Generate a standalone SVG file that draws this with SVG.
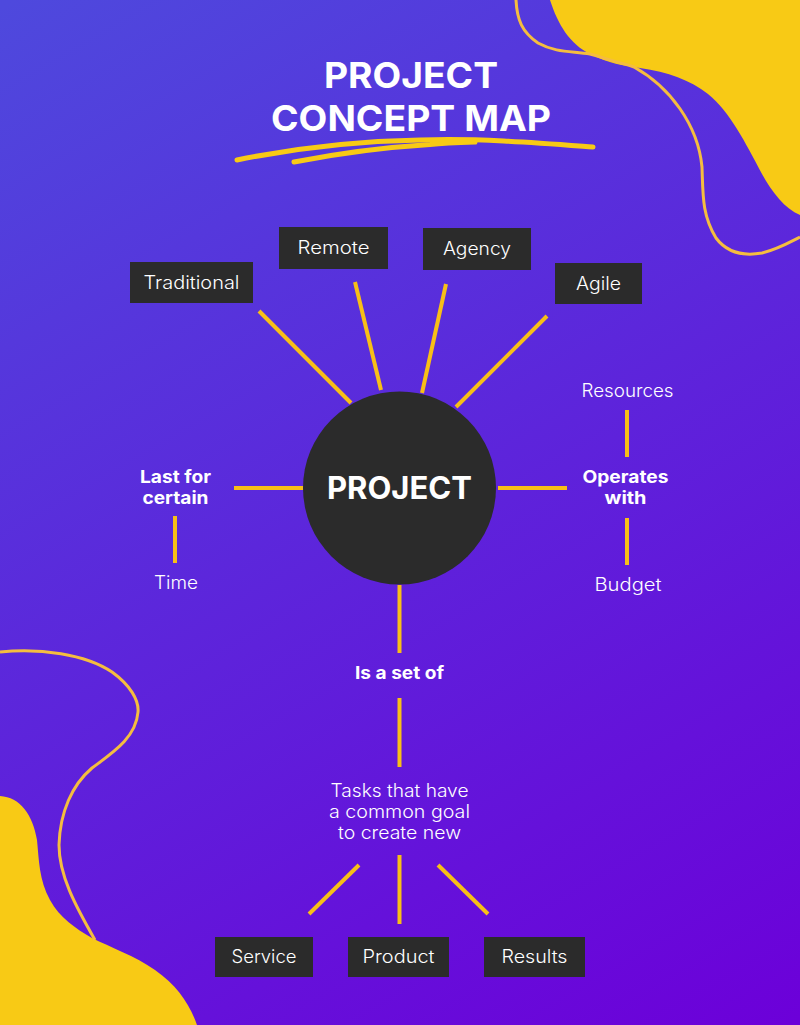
<svg xmlns="http://www.w3.org/2000/svg" width="800" height="1025" viewBox="0 0 800 1025">
<style>
text{font-family:Inter,"Open Sans","Liberation Sans",sans-serif;fill:#fff;text-anchor:middle}
.t{font-size:36px;font-weight:700}
.c{font-size:18px;font-weight:300}
.b{font-size:17.5px;font-weight:700}
.box{fill:#2b2b2b}
.con line{stroke:#f8bf17;stroke-width:4}
.thin{fill:none;stroke:#f5bd3f;stroke-width:3}
.blob{fill:#f8ca15}
.ul{fill:none;stroke:#f8ca15;stroke-linecap:round}
</style>
<defs><linearGradient id="bg" gradientUnits="userSpaceOnUse" x1="80" y1="-40" x2="720" y2="1065"><stop offset="0" stop-color="#4e49dd"/><stop offset="1" stop-color="#6c00d9"/></linearGradient></defs>
<rect width="800" height="1025" fill="url(#bg)"/>
<path class="blob" d="M550 0C558 25 570 44 590 54C610 64 622 65 640 68C668 72 690 80 708 94C730 112 745 142 762 174C772 192 785 209 800 215V0Z"/>
<path class="thin" d="M516 0C517 20 522 32 538 43C556 53 572 51 590 54C610 60 618 62 634 67C670 87 698 125 702 167C703 195 702 215 716 238C728 254 745 256 762 253C778 249 790 242 800 237"/>
<path class="blob" d="M0 796C20 797 33 815 37 840C39 860 39 880 50 900C60 918 75 928 92 938C110 947 135 956 155 970C178 986 190 1005 197 1025H0Z"/>
<path class="thin" d="M0 652C40 648 85 654 112 672C130 685 139 700 138 712C136 738 112 753 92 768C72 785 60 812 59 845C59 875 75 905 95 940"/>
<g id="title"><text class="t" x="411" y="88" textLength="174" lengthAdjust="spacingAndGlyphs">PROJECT</text><text class="t" x="411" y="131" textLength="280" lengthAdjust="spacingAndGlyphs">CONCEPT MAP</text></g>
<g id="underline"><path class="ul" stroke-width="5" d="M237 160C300 147 360 141 420 140C480 138 540 143 593 147"/><path class="ul" stroke-width="5" d="M294 162C340 153 390 147 430 144.500C445 143 460 142.500 475 142"/></g>
<g class="con" id="connectors">
<line x1="259" y1="311" x2="351" y2="403"/><line x1="355" y1="282" x2="381" y2="390"/><line x1="446" y1="284" x2="422" y2="393"/><line x1="547" y1="316" x2="456" y2="407"/>
<line x1="498" y1="488" x2="567" y2="488"/><line x1="234" y1="488" x2="303" y2="488"/><line x1="627" y1="410" x2="627" y2="457"/><line x1="627" y1="518" x2="627" y2="565"/><line x1="175" y1="516" x2="175" y2="563"/>
<line x1="399.500" y1="585" x2="399.500" y2="653"/><line x1="399.500" y1="698" x2="399.500" y2="767"/><line x1="359" y1="865" x2="309" y2="914"/><line x1="399.500" y1="855" x2="399.500" y2="924"/><line x1="438" y1="865" x2="488" y2="914"/>
</g>
<g id="project"><circle cx="399.5" cy="488" r="96.5" fill="#2b2b2b"/><text x="399.5" y="499" style="font-size:31px;font-weight:700" textLength="145" lengthAdjust="spacingAndGlyphs">PROJECT</text></g>
<g id="traditional"><rect class="box" x="130" y="262" width="123" height="41"/><text class="c" x="191.500" y="288.500" textLength="96" lengthAdjust="spacingAndGlyphs">Traditional</text></g>
<g id="remote"><rect class="box" x="279" y="227" width="109" height="42"/><text class="c" x="333.500" y="253.500" textLength="72" lengthAdjust="spacingAndGlyphs">Remote</text></g>
<g id="agency"><rect class="box" x="423" y="228" width="108" height="42"/><text class="c" x="477" y="254.500" textLength="68" lengthAdjust="spacingAndGlyphs">Agency</text></g>
<g id="agile"><rect class="box" x="555" y="263" width="87" height="41"/><text class="c" x="598.500" y="289.500" textLength="45" lengthAdjust="spacingAndGlyphs">Agile</text></g>
<g id="resources"><text class="c" x="627.500" y="396.500" textLength="92" lengthAdjust="spacingAndGlyphs">Resources</text></g>
<g id="operates"><text class="b" x="625.500" y="483" textLength="86" lengthAdjust="spacingAndGlyphs">Operates</text><text class="b" x="625.500" y="504" textLength="42" lengthAdjust="spacingAndGlyphs">with</text></g>
<g id="budget"><text class="c" x="628" y="590.500" textLength="67" lengthAdjust="spacingAndGlyphs">Budget</text></g>
<g id="last"><text class="b" x="175.500" y="483" textLength="71" lengthAdjust="spacingAndGlyphs">Last for</text><text class="b" x="175.500" y="504" textLength="66" lengthAdjust="spacingAndGlyphs">certain</text></g>
<g id="time"><text class="c" x="176" y="588.500" textLength="44" lengthAdjust="spacingAndGlyphs">Time</text></g>
<g id="set"><text class="b" x="399.500" y="679" textLength="89" lengthAdjust="spacingAndGlyphs">Is a set of</text></g>
<g id="tasks"><text class="c" x="399.500" y="797" textLength="138" lengthAdjust="spacingAndGlyphs">Tasks that have</text><text class="c" x="399.500" y="818" textLength="141" lengthAdjust="spacingAndGlyphs">a common goal</text><text class="c" x="399.500" y="839" textLength="123" lengthAdjust="spacingAndGlyphs">to create new</text></g>
<g id="service"><rect class="box" x="215" y="937" width="98" height="40"/><text class="c" x="264" y="963" textLength="65" lengthAdjust="spacingAndGlyphs">Service</text></g>
<g id="product"><rect class="box" x="348" y="937" width="101" height="40"/><text class="c" x="398.500" y="963" textLength="72" lengthAdjust="spacingAndGlyphs">Product</text></g>
<g id="results"><rect class="box" x="484" y="937" width="101" height="40"/><text class="c" x="534.500" y="963" textLength="66" lengthAdjust="spacingAndGlyphs">Results</text></g>
</svg>
